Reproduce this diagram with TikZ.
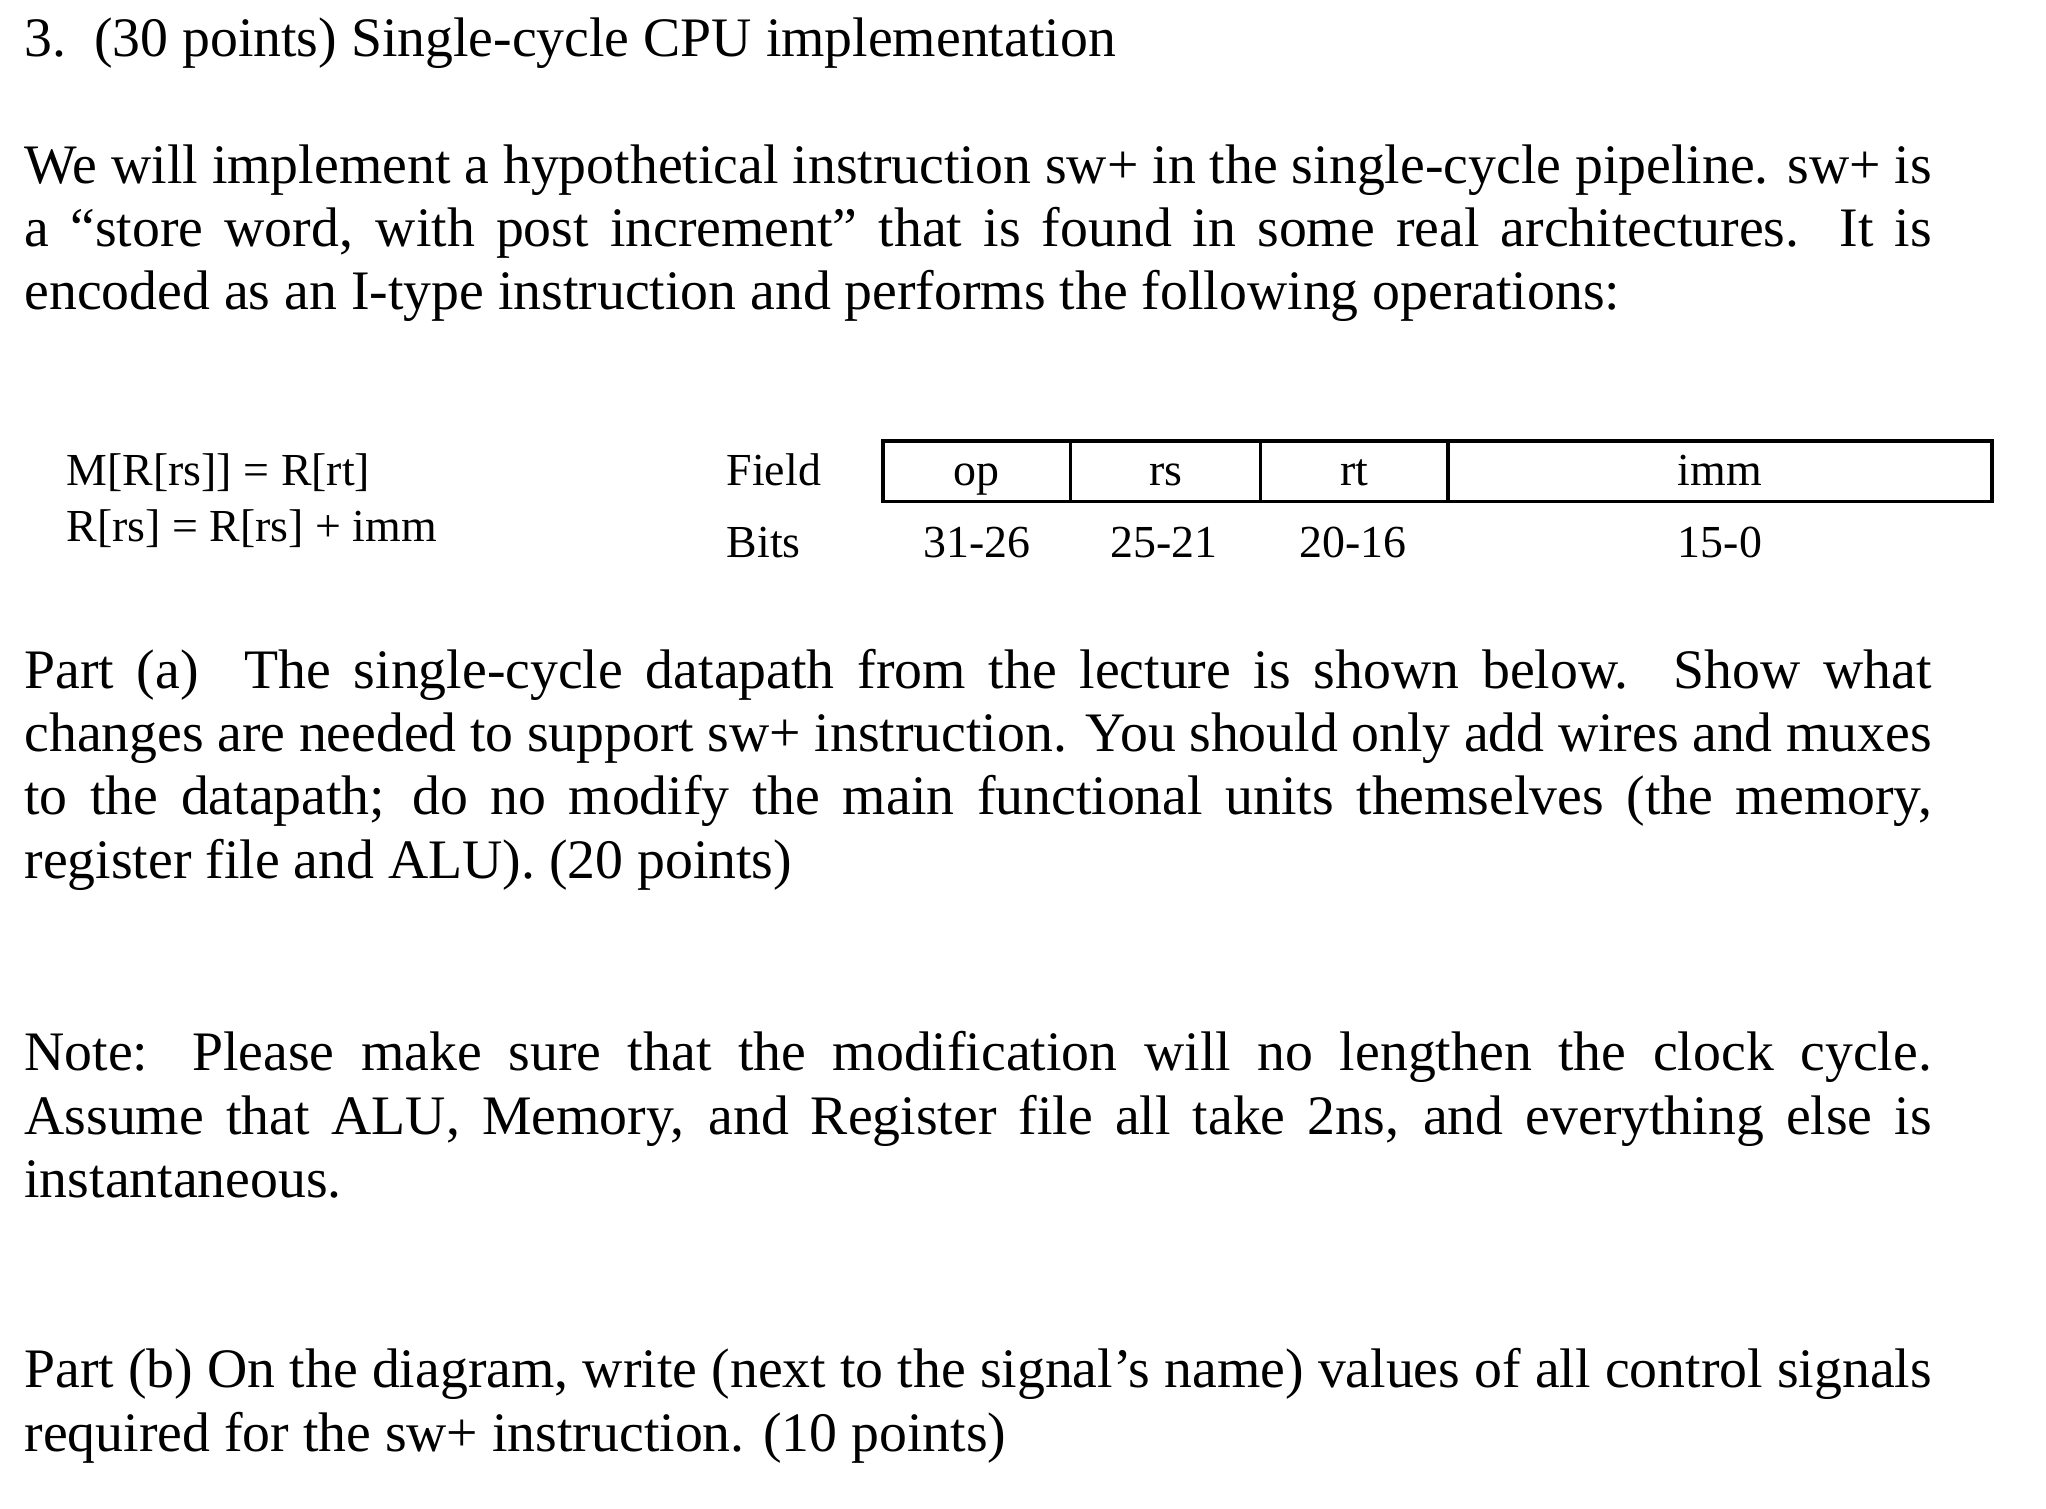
\documentclass[tikz,border=0pt]{standalone}
\usepackage{fontspec}
\setmainfont{Liberation Serif}
\begin{document}
\begin{tikzpicture}[x=0.3742pt,y=-0.3742pt,
  para/.style={anchor=north west,inner sep=0pt,text width=540.7pt,align=justify,font=\fontsize{15.8}{17.96}\selectfont},
  sm/.style={inner sep=0pt,font=\fontsize{13}{15}\selectfont},
  cell/.style={draw,line width=1pt}]
\useasboundingbox (0,0) rectangle (1550,1142.5);
\node[anchor=base west,inner sep=0pt,font=\fontsize{15.8}{17.96}\selectfont] (title) at (18,43) {3.\ \ (30 points)\ Single-cycle CPU implementation};
\node[para] (p1) at (18,109) {We will implement a hypothetical instruction sw+ in the single-cycle pipeline. sw+ is\linebreak a “store word, with post increment” that is found in some real architectures. It is\linebreak encoded as an I-type instruction and performs the following operations:};
\node[sm,anchor=base west] (e1) at (50,368) {M[R[rs]] = R[rt]};
\node[sm,anchor=base west] (e2) at (50,410) {R[rs] = R[rs] + imm};
\node[sm,anchor=base west] (fl) at (550,368) {Field};
\node[sm,anchor=base west] (bl) at (550,422) {Bits};
\draw[cell] (669,334) rectangle (811,380);
\draw[cell] (811,334) rectangle (955,380);
\draw[cell] (955,334) rectangle (1097,380);
\draw[cell] (1097,334) rectangle (1509,380);
\node[sm,anchor=base] (op) at (740,368) {op};
\node[sm,anchor=base] (rs) at (883,368) {rs};
\node[sm,anchor=base] (rt) at (1026,368) {rt};
\node[sm,anchor=base] (im) at (1303,368) {imm};
\node[sm,anchor=base] (b1) at (740,422) {31-26};
\node[sm,anchor=base] (b2) at (882,422) {25-21};
\node[sm,anchor=base] (b3) at (1025,422) {20-16};
\node[sm,anchor=base] (b4) at (1303,422) {15-0};
\node[para] (p2) at (18,491) {Part (a)\ \ The single-cycle datapath from the lecture is shown below. Show what\linebreak changes are needed to support sw+ instruction. You should only add wires and muxes\linebreak to the datapath; do no modify the main functional units themselves (the memory,\linebreak register file and ALU). (20 points)};
\node[para] (p3) at (18,781) {Note: Please make sure that the modification will no lengthen the clock cycle.\linebreak Assume that ALU, Memory, and Register file all take 2ns, and everything else is\linebreak instantaneous.};
\node[para] (p4) at (18,1021) {Part (b) On the diagram, write (next to the signal’s name) values of all control signals\linebreak required for the sw+ instruction. (10 points)};
\end{tikzpicture}
\end{document}
